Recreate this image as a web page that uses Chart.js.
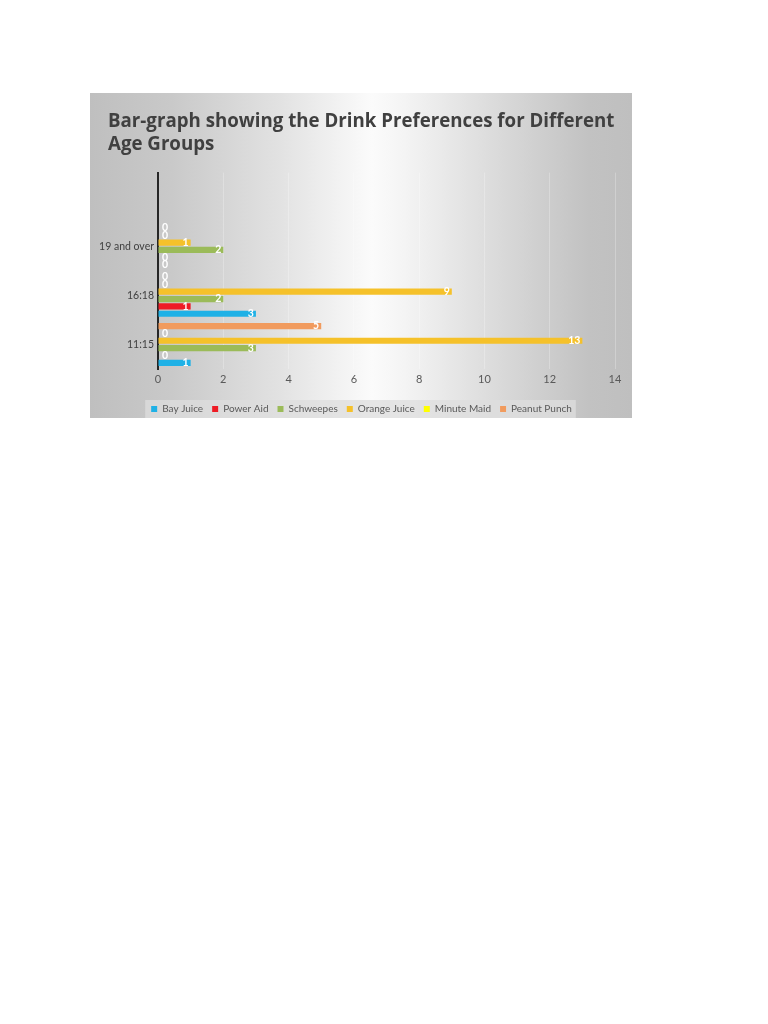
<!DOCTYPE html>
<html>
<head>
<meta charset="utf-8">
<script src="https://cdn.jsdelivr.net/npm/chart.js@4.4.0/dist/chart.umd.min.js"></script>
<style>
  body { margin: 0; background: #fff; }
  #box {
    position: absolute; left: 90px; top: 93px; width: 542px; height: 325px;
    background: linear-gradient(90deg, #bfbfbf 0%, #c9c9c9 15%, #e2e2e2 35%, #fbfbfb 52%, #f4f4f4 58%, #d6d6d6 78%, #c2c2c2 92%, #bfbfbf 100%);
  }
</style>
</head>
<body>
<div id="box"><canvas id="drinkChart" width="542" height="325"></canvas></div>
<script>
// age groups bottom to top (last one is the empty slot above "19 and over")
var categories = ['11:15', '16:18', '19 and over', ''];
var seriesNames = ['Bay Juice', 'Power Aid', 'Schweepes', 'Orange Juice', 'Minute Maid', 'Peanut Punch'];
var bayJuice = [1, 3, 0, null];
var powerAid = [0, 1, 0, null];
var schweepes = [3, 2, 2, null];
var orangeJuice = [13, 9, 1, null];
var minuteMaid = [0, 0, 0, null];
var peanutPunch = [5, 0, 0, null];
var xMin = 0, xMax = 14, xStep = 2;

var seriesValues = [bayJuice, powerAid, schweepes, orangeJuice, minuteMaid, peanutPunch];
var seriesColors = ['#1fb1e6', '#ee1c25', '#9bbb59', '#f5c12a', '#ffff00', '#f19b5e'];

// Chart.js draws first category / first dataset at the top, so reverse both
var datasets = [];
for (var i = seriesNames.length - 1; i >= 0; i--) {
    datasets.push({
        label: seriesNames[i],
        data: seriesValues[i].slice().reverse(),
        backgroundColor: seriesColors[i],
        borderWidth: 0,
        categoryPercentage: 0.9,
        barPercentage: 0.84
    });
}

// title and legend sit 18px in from the left, the axis labels do not
var shiftBlocks = {
    id: 'shiftBlocks',
    afterLayout: function(chart) {
        chart.titleBlock.left = 18;
        chart.legend.left = 18;
    }
};

var legendBack = {
    id: 'legendBack',
    beforeDraw: function(chart) {
        var boxes = chart.legend.legendHitBoxes;
        if (!boxes || !boxes.length) return;
        var left = boxes[0].left, right = 0;
        boxes.forEach(function(b) {
            left = Math.min(left, b.left);
            right = Math.max(right, b.left + b.width);
        });
        var ctx = chart.ctx;
        ctx.save();
        ctx.fillStyle = 'rgba(222,222,222,0.75)';
        ctx.fillRect(left - 6, chart.height - 18, right - left + 10, 18);
        ctx.restore();
    }
};

var barLabels = {
    id: 'barLabels',
    afterDatasetsDraw: function(chart) {
        var ctx = chart.ctx;
        ctx.save();
        ctx.font = 'bold 10.5px Lato';
        ctx.fillStyle = '#ffffff';
        ctx.textBaseline = 'middle';
        chart.data.datasets.forEach(function(ds, i) {
            chart.getDatasetMeta(i).data.forEach(function(bar, j) {
                var v = ds.data[j];
                if (v === null || v === undefined) return;
                if (v === 0) {
                    ctx.textAlign = 'left';
                    ctx.fillText('0', bar.base + 4, bar.y);
                } else {
                    ctx.textAlign = 'right';
                    ctx.fillText(String(v), bar.x - 2, bar.y);
                }
            });
        });
        ctx.restore();
    }
};

var ctx = document.getElementById('drinkChart').getContext('2d');
var drinkChart = new Chart(ctx, {
    type: 'bar',
    data: {
        labels: categories.slice().reverse(),
        datasets: datasets
    },
    options: {
        indexAxis: 'y',
        responsive: false,
        animation: false,
        layout: { padding: { left: 0, right: 17, top: 0, bottom: -6 } },
        plugins: {
            title: {
                display: true,
                text: ['Bar-graph showing the Drink Preferences for Different', 'Age Groups'],
                align: 'start',
                color: '#404040',
                font: { family: 'Open Sans', size: 18.7, weight: 'bold', lineHeight: 1.22 },
                padding: { top: 17, bottom: 17 }
            },
            legend: {
                position: 'bottom',
                reverse: true,
                labels: {
                    boxWidth: 6,
                    boxHeight: 6,
                    padding: 9,
                    color: '#595959',
                    font: { family: 'Lato', size: 10 }
                }
            },
            tooltip: { enabled: false }
        },
        scales: {
            x: {
                min: xMin,
                max: xMax,
                ticks: { stepSize: xStep, color: '#595959', font: { family: 'Lato', size: 11 }, padding: 4 },
                grid: { color: 'rgba(255,255,255,0.25)', drawTicks: false },
                border: { display: false },
                afterFit: function(s) { s.height = 26; }
            },
            y: {
                ticks: { color: '#404040', font: { family: 'Lato', size: 10.5 }, padding: 4 },
                grid: { display: false, drawTicks: false },
                border: { display: true, color: '#262626', width: 2 },
                afterFit: function(s) { s.width = 68; }
            }
        }
    },
    plugins: [shiftBlocks, legendBack, barLabels]
});
</script>
</body>
</html>
